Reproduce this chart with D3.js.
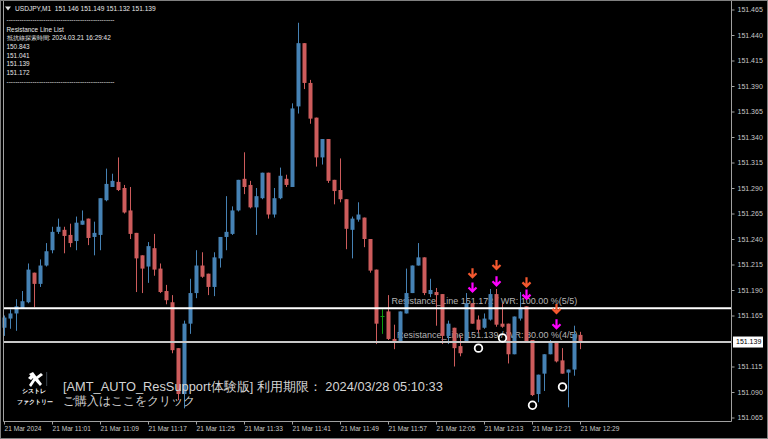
<!DOCTYPE html>
<html>
<head>
<meta charset="utf-8">
<script src="https://cdn.jsdelivr.net/npm/d3@7"></script>
<style>
html, body { margin: 0; padding: 0; background: #000; overflow: hidden; }
text { font-family: "Liberation Sans", Arial, sans-serif; }
</style>
</head>
<body>
<svg id="chart" width="768" height="439"></svg>
<script>
// USDJPY M1 bars, 10:53 .. 12:29
var opens = [151.153,151.162,151.167,151.172,151.178,151.207,151.196,151.214,151.229,151.247,
151.249,151.244,151.238,151.254,151.260,151.242,151.244,151.278,151.291,151.296,
151.290,151.268,151.246,151.224,151.213,151.231,151.211,151.189,151.178,151.133,
151.088,151.157,151.187,151.214,151.206,151.193,151.221,151.242,151.245,151.268,
151.299,151.293,151.271,151.280,151.305,151.264,151.280,151.299,151.291,151.370,
151.432,151.393,151.359,151.320,151.338,151.298,151.288,151.279,151.249,151.259,
151.261,151.240,151.210,151.164,151.169,151.142,151.139,151.167,151.187,151.214,
151.222,151.186,151.188,151.186,151.145,151.153,151.135,151.139,151.177,151.161,
151.153,151.161,151.186,151.157,151.157,151.127,151.162,151.174,151.141,151.088,
151.108,151.127,151.140,151.121,151.109,151.112,151.146];
var highs = [151.165,151.171,151.181,151.189,151.216,151.207,151.220,151.236,151.252,151.260,
151.252,151.255,151.262,151.268,151.260,151.257,151.280,151.309,151.304,151.320,
151.293,151.291,151.246,151.224,151.237,151.245,151.216,151.195,151.185,151.133,
151.160,151.201,151.229,151.227,151.206,151.227,151.242,151.282,151.272,151.298,
151.325,151.297,151.290,151.305,151.305,151.290,151.310,151.303,151.373,151.452,
151.432,151.396,151.359,151.338,151.338,151.298,151.319,151.279,151.262,151.276,
151.261,151.240,151.210,151.171,151.185,151.156,151.169,151.211,151.214,151.236,
151.222,151.201,151.192,151.186,151.160,151.153,151.145,151.187,151.177,151.165,
151.167,151.191,151.191,151.177,151.157,151.164,151.188,151.174,151.141,151.107,
151.127,151.141,151.140,151.133,151.112,151.155,151.149];
var lows = [151.145,151.152,151.150,151.172,151.177,151.173,151.193,151.213,151.226,151.245,
151.226,151.232,151.229,151.254,151.234,151.224,151.229,151.277,151.291,151.287,
151.265,151.240,151.188,151.187,151.197,151.204,151.187,151.176,151.128,151.082,
151.074,151.147,151.182,151.202,151.185,151.184,151.212,151.229,151.244,151.267,
151.284,151.270,151.244,151.279,151.260,151.261,151.279,151.291,151.291,151.363,
151.387,151.353,151.311,151.313,151.295,151.274,151.276,151.230,151.221,151.257,
151.232,151.207,151.137,151.147,151.141,151.132,151.139,151.167,151.187,151.214,
151.185,151.183,151.155,151.137,151.137,151.115,151.125,151.139,151.157,151.148,
151.152,151.160,151.154,151.153,151.118,151.127,151.160,151.139,151.086,151.080,
151.091,151.127,151.119,151.108,151.075,151.106,151.132];
var closes = [151.163,151.167,151.174,151.179,151.210,151.196,151.214,151.228,151.247,151.252,
151.243,151.236,151.256,151.258,151.241,151.246,151.280,151.294,151.297,151.288,
151.266,151.245,151.221,151.211,151.233,151.210,151.188,151.180,151.131,151.088,
151.157,151.187,151.214,151.203,151.193,151.222,151.242,151.247,151.268,151.298,
151.291,151.271,151.282,151.305,151.264,151.280,151.302,151.293,151.368,151.432,
151.393,151.358,151.320,151.338,151.297,151.287,151.279,151.250,151.260,151.264,
151.240,151.209,151.157,151.164,151.142,151.139,151.169,151.187,151.214,151.222,
151.187,151.190,151.185,151.145,151.157,151.133,151.128,151.177,151.157,151.151,
151.162,151.186,151.156,151.154,151.127,151.164,151.173,151.139,151.087,151.107,
151.127,151.138,151.120,151.108,151.112,151.147,151.139];

// price axis
var priceTicks = [151.465,151.440,151.415,151.390,151.365,151.340,151.315,151.290,151.265,
151.240,151.215,151.190,151.165,151.115,151.090,151.065];
var bidPrice = 151.139;

// time axis
var timeTickIdx = [0,8,16,24,32,40,48,56,64,72,80,88,96];
var timeLabels = ["21 Mar 2024","21 Mar 11:01","21 Mar 11:09","21 Mar 11:17","21 Mar 11:25",
"21 Mar 11:33","21 Mar 11:41","21 Mar 11:49","21 Mar 11:57","21 Mar 12:05","21 Mar 12:13",
"21 Mar 12:21","21 Mar 12:29"];

// resistance lines and their labels
var resPrices = [151.172, 151.139];
var resLabels = ["Resistance_Line 151.172 / WR: 100.00 %(5/5)", "Resistance_Line 151.139 / WR: 80.00 %(4/5)"];
var resLabelIdx = [64.6, 65.5];

// signals
var signalIdx = [78, 82, 87, 92];
var orangeArrow = [151.206, 151.214, 151.197, 151.171];
var magentaArrow = [151.192, 151.198, 151.185, 151.156];
var circleIdx = [79, 83, 88, 93];
var circlePrice = [151.133, 151.143, 151.077, 151.095];

// info panel
var headerText = "USDJPY,M1  151.146 151.149 151.132 151.139";
var listLines = ["Resistance Line List", "抵抗線探索時間: 2024.03.21 16:29:42",
"150.843", "151.041", "151.139", "151.172"];

var W = 768, H = 439;
var svg = d3.select("#chart");
svg.append("rect").attr("width", W).attr("height", H).attr("fill", "#000");

var y = d3.scaleLinear().domain([151.065, 151.465]).range([417.5, 9.5]);
var x = d3.scaleLinear().domain([0, opens.length - 1]).range([4, 580]);

var bars = opens.map(function(o, i) {
    return {i: i, o: o, h: highs[i], l: lows[i], c: closes[i]};
});

// resistance texts (behind the bars)
svg.append("g").selectAll("text")
    .data(resLabels)
    .enter().append("text")
    .attr("x", function(d, i) { return x(resLabelIdx[i]); })
    .attr("y", function(d, i) { return y(resPrices[i]) - 4; })
    .attr("fill", "#b4b4b4")
    .attr("font-size", "9px")
    .text(function(d) { return d; });

function barColor(d) {
    if (d.c > d.o) return "#4682b4";
    if (d.c < d.o) return "#cd5c5c";
    return "#109c10";
}

var g = svg.append("g");
g.selectAll("rect.wick")
    .data(bars)
    .enter().append("rect")
    .attr("class", "wick")
    .attr("x", function(d) { return Math.round(x(d.i)); })
    .attr("width", 1)
    .attr("y", function(d) { return y(d.h); })
    .attr("height", function(d) { return Math.max(1, y(d.l) - y(d.h)); })
    .attr("fill", barColor);

g.selectAll("rect.body")
    .data(bars.filter(function(d) { return d.c != d.o; }))
    .enter().append("rect")
    .attr("class", "body")
    .attr("x", function(d) { return Math.round(x(d.i)) - 1.5; })
    .attr("width", 4)
    .attr("y", function(d) { return y(Math.max(d.o, d.c)); })
    .attr("height", function(d) { return Math.max(1, Math.abs(y(d.o) - y(d.c))); })
    .attr("fill", barColor);

// doji cross
g.selectAll("rect.doji")
    .data(bars.filter(function(d) { return d.c == d.o; }))
    .enter().append("rect")
    .attr("x", function(d) { return Math.round(x(d.i)) - 1.5; })
    .attr("width", 4)
    .attr("y", function(d) { return y(d.o) - 0.5; })
    .attr("height", 1)
    .attr("fill", barColor);

// horizontal lines
svg.append("g").selectAll("line")
    .data(resPrices)
    .enter().append("line")
    .attr("x1", 3).attr("x2", 731)
    .attr("y1", function(d) { return y(d); })
    .attr("y2", function(d) { return y(d); })
    .attr("stroke", function(d, i) { return i == 0 ? "#ffffff" : "#c8c8c8"; })
    .attr("stroke-width", 2);

// arrows
function arrowPath(cx, cy) {
    return "M" + cx + "," + (cy - 5.5) + "V" + (cy + 3.5) +
        "M" + (cx - 4) + "," + (cy - 0.5) + "L" + cx + "," + (cy + 3.5) + "L" + (cx + 4) + "," + (cy - 0.5);
}
var ag = svg.append("g").attr("fill", "none").attr("stroke-width", 2.2);
ag.selectAll("path.o")
    .data(signalIdx)
    .enter().append("path")
    .attr("d", function(d, i) { return arrowPath(x(d) + 0.5, y(orangeArrow[i])); })
    .attr("stroke", "#f4582f");
ag.selectAll("path.m")
    .data(signalIdx)
    .enter().append("path")
    .attr("d", function(d, i) { return arrowPath(x(d) + 0.5, y(magentaArrow[i])); })
    .attr("stroke", "#ff00ff");

svg.append("g").selectAll("circle")
    .data(circleIdx)
    .enter().append("circle")
    .attr("cx", function(d) { return x(d) + 0.5; })
    .attr("cy", function(d, i) { return y(circlePrice[i]); })
    .attr("r", 3.8)
    .attr("fill", "none")
    .attr("stroke", "#ffffff")
    .attr("stroke-width", 1.8);

// frame
var frame = svg.append("g").attr("stroke", "#a0a0a0").attr("fill", "none");
frame.append("path").attr("d", "M3.5,0V421.5H731.5V0");
svg.append("rect").attr("x", 0.5).attr("y", 0.5).attr("width", W - 1).attr("height", H - 1)
    .attr("fill", "none").attr("stroke", "#808080");

// price axis
var yAxis = d3.axisRight(y)
    .tickValues(priceTicks)
    .tickFormat(d3.format(".3f"))
    .tickSize(3)
    .tickPadding(3);
var ya = svg.append("g").attr("transform", "translate(731.5,0)").call(yAxis);
ya.select(".domain").remove();
ya.selectAll("line").attr("stroke", "#a0a0a0");
ya.selectAll("text").attr("fill", "#c8c8c8").attr("font-size", "7px")
    .attr("font-family", "Liberation Sans, Arial, sans-serif");

// bid price box
svg.append("rect").attr("x", 733).attr("y", y(bidPrice) - 5.5).attr("width", 30).attr("height", 11)
    .attr("fill", "#ffffff");
svg.append("text").attr("x", 736).attr("y", y(bidPrice)).attr("dy", "0.35em")
    .attr("font-size", "7px").attr("fill", "#000").text(d3.format(".3f")(bidPrice));

// time axis
var xAxis = d3.axisBottom(x)
    .tickValues(timeTickIdx)
    .tickFormat(function(d, i) { return timeLabels[i]; })
    .tickSize(3)
    .tickPadding(2);
var xa = svg.append("g").attr("transform", "translate(0,421.5)").call(xAxis);
xa.select(".domain").remove();
xa.selectAll("line").attr("stroke", "#a0a0a0");
xa.selectAll("text").attr("fill", "#c8c8c8").attr("font-size", "6.6px")
    .attr("text-anchor", "start").attr("x", 0)
    .attr("font-family", "Liberation Sans, Arial, sans-serif");

// info panel top-left
svg.append("path").attr("d", "M5,6.5H11L8,10.5Z").attr("fill", "#e0e0e0");
svg.append("text").attr("x", 15).attr("y", 11.3).attr("font-size", "6.6px").attr("fill", "#e8e8e8")
    .attr("xml:space", "preserve").text(headerText);
var dash = new Array(51).join("-");
svg.append("text").attr("x", 6.5).attr("y", 21.5).attr("font-size", "6.4px").attr("fill", "#e0e0e0")
    .attr("textLength", 108).text(dash);
svg.selectAll("text.list")
    .data(listLines)
    .enter().append("text")
    .attr("class", "list")
    .attr("x", 6.5)
    .attr("y", function(d, i) { return 31.5 + i * 8.7; })
    .attr("font-size", "6.4px")
    .attr("fill", "#e8e8e8")
    .text(function(d) { return d; });
svg.append("text").attr("x", 6.5).attr("y", 84).attr("font-size", "6.4px").attr("fill", "#e0e0e0")
    .attr("textLength", 108).text(dash);

// logo + trial notice
var logo = svg.append("g").attr("fill", "#ffffff");
logo.append("path").attr("d", "M29,374L33,372L42,384L40,386Z");
logo.append("path").attr("d", "M41,373L43,375L35,381L31,387L29,385L33,379Z");
logo.append("path").attr("d", "M28,378L31,375L34,377L31,380Z");
svg.append("rect").attr("x", 46).attr("y", 372).attr("width", 1.2).attr("height", 14).attr("fill", "#303840");
logo.append("text").attr("x", 34).attr("y", 393).attr("text-anchor", "middle")
    .attr("font-size", "6px").attr("font-weight", "bold")
    .attr("font-family", "Noto Sans CJK JP").text("シストレ");
logo.append("text").attr("x", 35).attr("y", 404).attr("text-anchor", "middle")
    .attr("font-size", "5.6px").attr("font-weight", "bold")
    .attr("font-family", "Noto Sans CJK JP").text("ファクトリー");

svg.append("text").attr("x", 63).attr("y", 390.5).attr("font-size", "12.8px").attr("fill", "#d4d4d4")
    .attr("font-family", "Noto Sans CJK JP")
    .text("[AMT_AUTO_ResSupport体験版] 利用期限： 2024/03/28 05:10:33");
svg.append("text").attr("x", 63).attr("y", 405).attr("font-size", "12px").attr("fill", "#d4d4d4")
    .attr("font-family", "Noto Sans CJK JP")
    .text("ご購入はここをクリック");
</script>
</body>
</html>
